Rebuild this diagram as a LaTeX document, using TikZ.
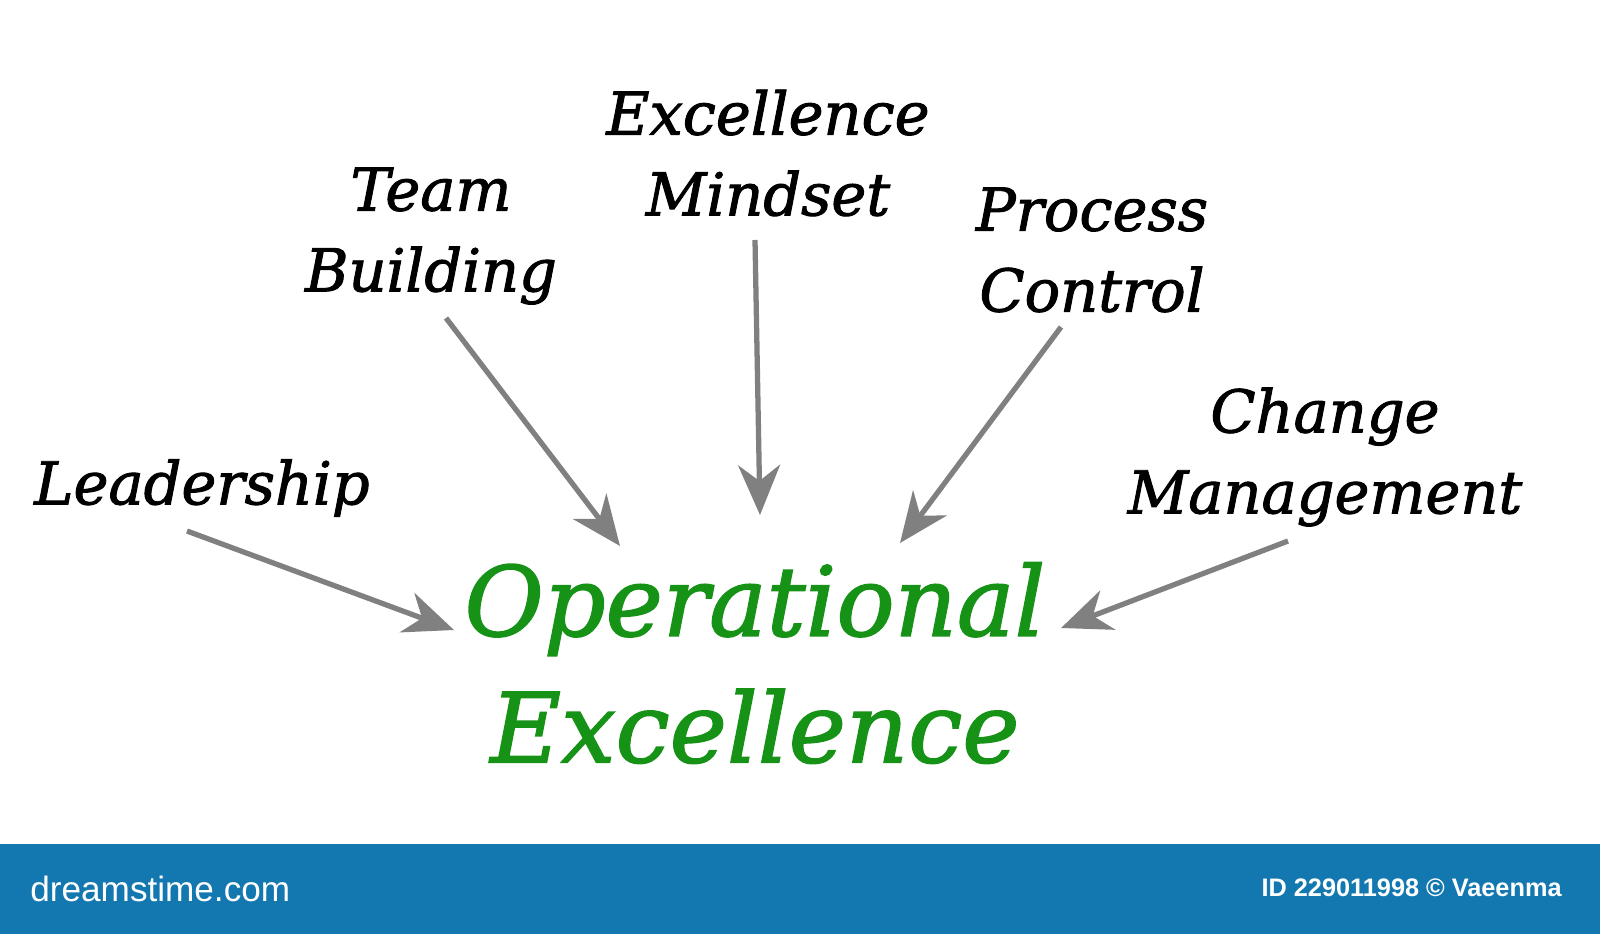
\documentclass[tikz,border=0pt]{standalone}
\usepackage{fontspec}
\setmainfont{DejaVu Serif}
\setsansfont{Liberation Sans}
\newfontfamily\labelfont[ItalicFeatures={FakeBold=1.6}]{DejaVu Serif}
\usetikzlibrary{arrows.meta,positioning,calc}
\definecolor{opgreen}{RGB}{22,146,22}
\definecolor{arrowgrey}{RGB}{128,128,128}
\definecolor{barblue}{RGB}{18,120,175}

\begin{document}
\begin{tikzpicture}[
    pillar/.style={align=center,font=\labelfont\fontsize{16.8}{23}\selectfont\itshape},
    goal/.style={align=center,text=opgreen,font=\labelfont\fontsize{27.5}{36}\selectfont\itshape},
    feed/.style={-{Stealth[length=5mm,width=4.2mm,inset=1.6mm]},draw=arrowgrey,line width=1.5pt},
    bartext/.style={text=white,font=\sffamily}]
   \useasboundingbox (0,0) rectangle (16,9.34);
   \fill[barblue] (0,0) rectangle (16,0.9);

   \node[goal] (opex) at (7.55,2.71) {Operational\\Excellence};
   \node[pillar] (lead) at (2.02,4.46) {Leadership};
   \node[pillar] (team) at (4.31,6.98) {Team\\Building};
   \node[pillar] (mind) at (7.68,7.81) {Excellence\\Mindset};
   \node[pillar] (proc) at (10.92,6.84) {Process\\Control};
   \node[pillar] (chg) at (13.25,4.77) {Change\\Management};

   % arrow ends
   \coordinate (lead-a) at (1.87,4.03);  \coordinate (lead-b) at (4.54,3.04);
   \coordinate (team-a) at (4.46,6.16);  \coordinate (team-b) at (6.20,3.88);
   \coordinate (mind-a) at (7.55,6.94);  \coordinate (mind-b) at (7.60,4.19);
   \coordinate (proc-a) at (10.61,6.07); \coordinate (proc-b) at (9.00,3.91);
   \coordinate (chg-a) at (12.88,3.93);  \coordinate (chg-b) at (10.61,3.06);

   \foreach \n in {lead,team,mind,proc,chg}
     \draw[feed] (\n-a) -- (\n-b);

   \node[bartext,anchor=west,font=\sffamily\fontsize{10}{12}\selectfont] (site) at (0.18,0.45) {dreamstime.com};
   \node[bartext,anchor=east,font=\sffamily\bfseries\fontsize{7.2}{9}\selectfont] (credit) at (15.74,0.46) {ID 229011998 © Vaeenma};
\end{tikzpicture}
\end{document}
